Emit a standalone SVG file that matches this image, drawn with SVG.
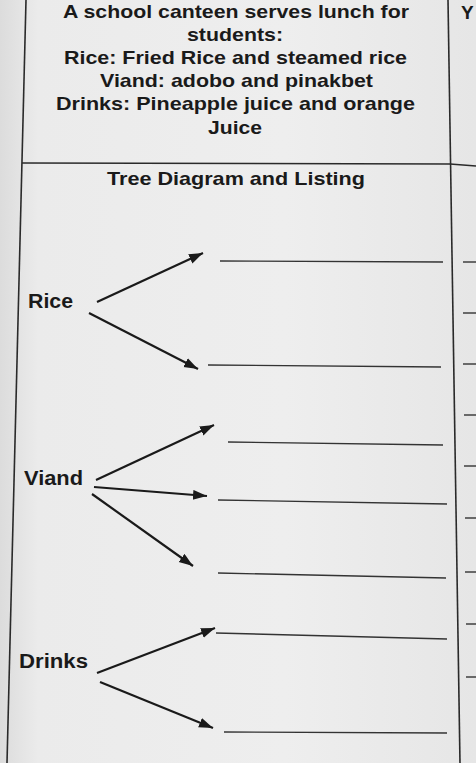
<svg xmlns="http://www.w3.org/2000/svg" width="476" height="763" viewBox="0 0 476 763">
<defs>
<linearGradient id="paper" x1="0" y1="0" x2="1" y2="0">
<stop offset="0" stop-color="#dcdcdc"/>
<stop offset="0.08" stop-color="#ebebeb"/>
<stop offset="0.6" stop-color="#eeeeee"/>
<stop offset="1" stop-color="#e6e6e6"/>
</linearGradient>
<marker id="ah" markerUnits="userSpaceOnUse" markerWidth="15" markerHeight="12" refX="14" refY="5" orient="auto">
<path d="M0,0 L14,5 L0,10 Z" fill="#1a1a1a"/>
</marker>
<style>
.t{font-family:"Liberation Sans",Arial,sans-serif;font-weight:bold;fill:#1a1a1a;font-size:19px;text-anchor:middle}
.lbl{font-family:"Liberation Sans",Arial,sans-serif;font-weight:bold;fill:#1a1a1a;font-size:20px}
.frame{stroke:#2a2a2a;stroke-width:1.6;fill:none}
.blank{stroke:#333;stroke-width:1.4;fill:none}
.arr{stroke:#1a1a1a;stroke-width:2.2;fill:none;marker-end:url(#ah)}
</style>
</defs>
<rect width="476" height="763" fill="url(#paper)"/>
<g id="frame">
<line class="frame" x1="26" y1="0" x2="7" y2="763"/>
<line class="frame" x1="448" y1="0" x2="460" y2="763"/>
<line class="frame" x1="22" y1="163" x2="450" y2="164"/>
<line class="frame" x1="450" y1="164" x2="476" y2="166"/>
</g>
<g id="header">
<text class="t" x="236" y="18" textLength="346" lengthAdjust="spacingAndGlyphs">A school canteen serves lunch for</text>
<text class="t" x="235" y="41" textLength="96" lengthAdjust="spacingAndGlyphs">students:</text>
<text class="t" x="235.5" y="64" textLength="343" lengthAdjust="spacingAndGlyphs">Rice: Fried Rice and steamed rice</text>
<text class="t" x="236.5" y="87" textLength="273" lengthAdjust="spacingAndGlyphs">Viand: adobo and pinakbet</text>
<text class="t" x="235.5" y="110" textLength="359" lengthAdjust="spacingAndGlyphs">Drinks: Pineapple juice and orange</text>
<text class="t" x="235" y="134" textLength="54" lengthAdjust="spacingAndGlyphs">Juice</text>
<text class="t" x="236" y="185" textLength="258" lengthAdjust="spacingAndGlyphs">Tree Diagram and Listing</text>
<text class="t" x="461" y="19" style="text-anchor:start">Y</text>
</g>
<g id="node-rice"><text class="lbl" x="28" y="308" textLength="45" lengthAdjust="spacingAndGlyphs">Rice</text></g>
<g id="node-viand"><text class="lbl" x="24" y="485" textLength="59" lengthAdjust="spacingAndGlyphs">Viand</text></g>
<g id="node-drinks"><text class="lbl" x="19" y="668" textLength="69" lengthAdjust="spacingAndGlyphs">Drinks</text></g>
<g id="connectors">
<line class="arr" x1="97" y1="302" x2="203" y2="253"/>
<line class="arr" x1="89" y1="313" x2="198" y2="369"/>
<line class="arr" x1="96" y1="480" x2="214" y2="425"/>
<line class="arr" x1="94" y1="487" x2="207" y2="496"/>
<line class="arr" x1="92" y1="494" x2="193" y2="566"/>
<line class="arr" x1="97" y1="673" x2="215" y2="628"/>
<line class="arr" x1="100" y1="682" x2="213" y2="728"/>
</g>
<g id="blanks">
<line class="blank" x1="220" y1="261" x2="443" y2="262"/>
<line class="blank" x1="208" y1="365" x2="441" y2="367"/>
<line class="blank" x1="228" y1="442" x2="443" y2="445"/>
<line class="blank" x1="218" y1="500" x2="447" y2="504"/>
<line class="blank" x1="218" y1="573" x2="446" y2="578"/>
<line class="blank" x1="216" y1="633" x2="447" y2="639"/>
<line class="blank" x1="224" y1="732" x2="447" y2="733"/>
</g>
<g id="right-column">
<line class="blank" stroke-width="2" x1="463" y1="262" x2="476" y2="262"/>
<line class="blank" stroke-width="2" x1="463" y1="313" x2="476" y2="313"/>
<line class="blank" stroke-width="2" x1="463" y1="364" x2="476" y2="364"/>
<line class="blank" stroke-width="2" x1="464" y1="415" x2="476" y2="415"/>
<line class="blank" stroke-width="2" x1="464" y1="466" x2="476" y2="466"/>
<line class="blank" stroke-width="2" x1="465" y1="518" x2="476" y2="518"/>
<line class="blank" stroke-width="2" x1="465" y1="572" x2="476" y2="572"/>
<line class="blank" stroke-width="2" x1="466" y1="624" x2="476" y2="624"/>
<line class="blank" stroke-width="2" x1="466" y1="677" x2="476" y2="677"/>
</g>
</svg>
